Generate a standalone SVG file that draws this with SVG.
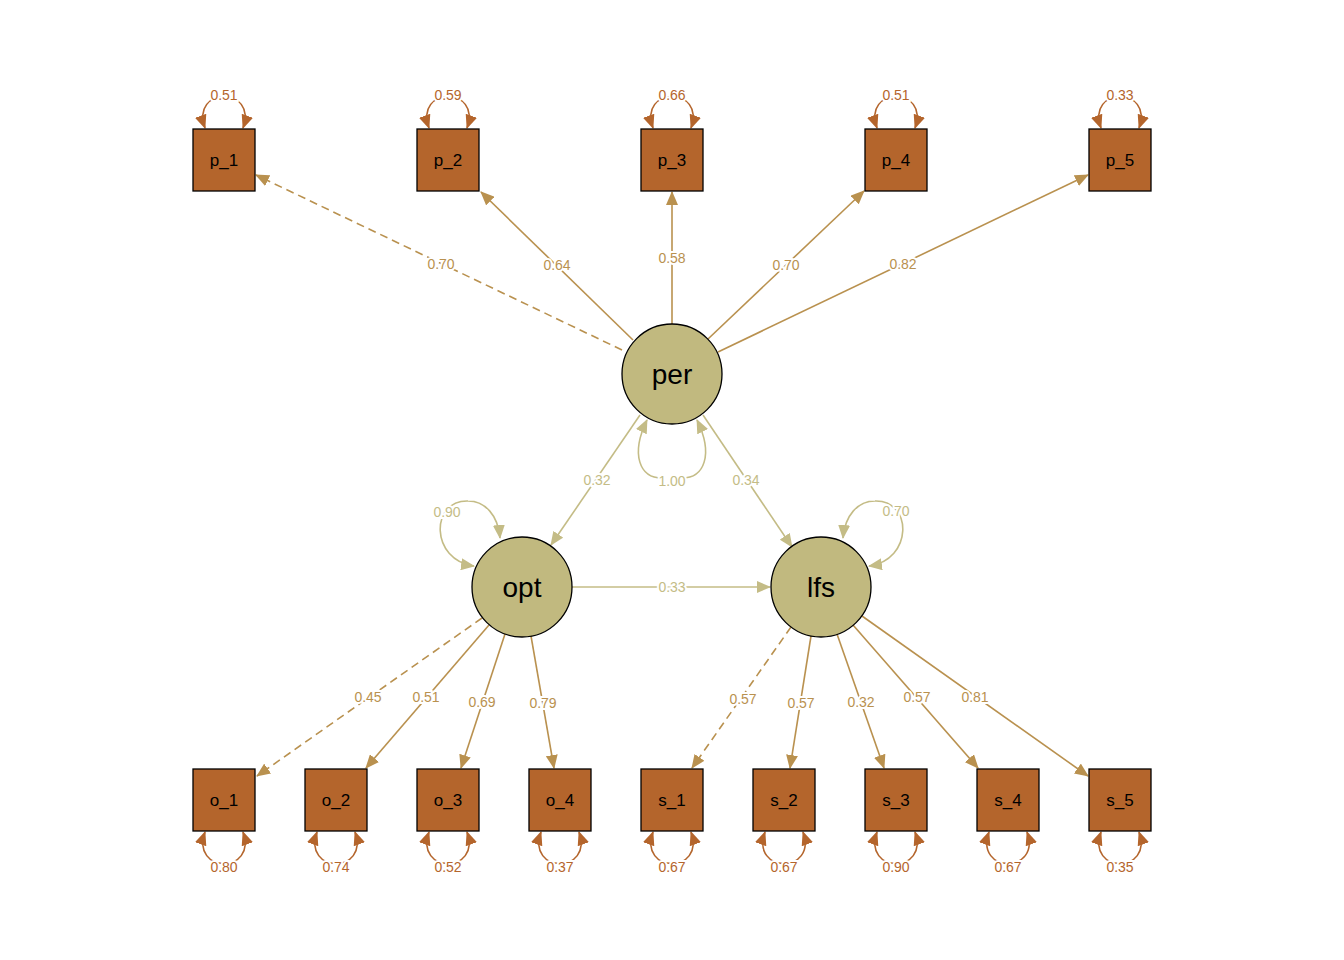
<svg xmlns="http://www.w3.org/2000/svg" width="1344" height="960" viewBox="0 0 1344 960">
<style>
.box{fill:#B4652C;stroke:#000;stroke-width:1.3}
.lat{fill:#C1B97F;stroke:#000;stroke-width:1.3}
.t{font-family:"Liberation Sans",Arial,sans-serif;font-size:17px;text-anchor:middle;dominant-baseline:central;fill:#000}
.tl{font-family:"Liberation Sans",Arial,sans-serif;font-size:28px;text-anchor:middle;dominant-baseline:central;fill:#000}
.ld{fill:none;stroke:#B9914F;stroke-width:1.6;marker-end:url(#ma)}
.la{fill:none;stroke:#C4BC86;stroke-width:1.6;marker-end:url(#mb)}
.lr{fill:none;stroke:#B4652C;stroke-width:1.6;marker-start:url(#mc);marker-end:url(#mc)}
.ls{fill:none;stroke:#C4BC86;stroke-width:1.6;marker-start:url(#mb);marker-end:url(#mb)}
.d{stroke-dasharray:8 5}
.e{font-family:"Liberation Sans",Arial,sans-serif;font-size:14px;text-anchor:middle;dominant-baseline:central;paint-order:stroke;stroke:#fff;stroke-width:4}
.eld{fill:#B9914F}.ela{fill:#C4BC86}.elr{fill:#B4652C}
</style>
<defs>
<marker id="ma" markerUnits="userSpaceOnUse" markerWidth="14" markerHeight="12" refX="13" refY="6" orient="auto-start-reverse"><path d="M0,0L14,6L0,12Z" fill="#B9914F"/></marker>
<marker id="mb" markerUnits="userSpaceOnUse" markerWidth="14" markerHeight="12" refX="13" refY="6" orient="auto-start-reverse"><path d="M0,0L14,6L0,12Z" fill="#C4BC86"/></marker>
<marker id="mc" markerUnits="userSpaceOnUse" markerWidth="14" markerHeight="12" refX="13" refY="6" orient="auto-start-reverse"><path d="M0,0L14,6L0,12Z" fill="#B4652C"/></marker>
</defs>
<g id="connectors">
<path class="ld d" d="M622,350L256,175"/>
<path class="ld" d="M633,340L481,192"/>
<path class="ld" d="M672,324L672,192"/>
<path class="ld" d="M708,339L864,191"/>
<path class="ld" d="M718,352L1088,175"/>
<path class="la" d="M640,415L551,545"/>
<path class="la" d="M703,415L792,547"/>
<path class="la" d="M572,587L770,587"/>
<path class="ls" d="M647,420C630,455 640,478 662,478M682,478C704,478 714,455 697,420"/>
<path class="ls" d="M474,566C430,560 430,500 468,501C485,501 498,515 500,538"/>
<path class="ls" d="M843,538C845,515 858,501 875,501C913,500 913,560 869,566"/>
<path class="ld d" d="M482,618L257,776"/>
<path class="ld" d="M489,625L366,768"/>
<path class="ld" d="M505,634L461,768"/>
<path class="ld" d="M531,636L554,768"/>
<path class="ld d" d="M791,627L692,768"/>
<path class="ld" d="M811,636L790,768"/>
<path class="ld" d="M837,634L884,768"/>
<path class="ld" d="M853,625L978,768"/>
<path class="ld" d="M862,616L1088,776"/>
<g id="resid">
<path class="lr" d="M205,128C190,86 258,86 243,128"/>
<path class="lr" d="M429,128C414,86 482,86 467,128"/>
<path class="lr" d="M653,128C638,86 706,86 691,128"/>
<path class="lr" d="M877,128C862,86 930,86 915,128"/>
<path class="lr" d="M1101,128C1086,86 1154,86 1139,128"/>
<path class="lr" d="M205,832C190,874 258,874 243,832"/>
<path class="lr" d="M317,832C302,874 370,874 355,832"/>
<path class="lr" d="M429,832C414,874 482,874 467,832"/>
<path class="lr" d="M541,832C526,874 594,874 579,832"/>
<path class="lr" d="M653,832C638,874 706,874 691,832"/>
<path class="lr" d="M765,832C750,874 818,874 803,832"/>
<path class="lr" d="M877,832C862,874 930,874 915,832"/>
<path class="lr" d="M989,832C974,874 1042,874 1027,832"/>
<path class="lr" d="M1101,832C1086,874 1154,874 1139,832"/>
</g>
<g id="labels">
<text class="e eld" x="441" y="264">0.70</text>
<text class="e eld" x="557" y="265">0.64</text>
<text class="e eld" x="672" y="258">0.58</text>
<text class="e eld" x="786" y="265">0.70</text>
<text class="e eld" x="903" y="264">0.82</text>
<text class="e ela" x="597" y="480">0.32</text>
<text class="e ela" x="746" y="480">0.34</text>
<text class="e ela" x="672" y="587">0.33</text>
<text class="e ela" x="672" y="481">1.00</text>
<text class="e ela" x="447" y="512">0.90</text>
<text class="e ela" x="896" y="511">0.70</text>
<text class="e eld" x="368" y="697">0.45</text>
<text class="e eld" x="426" y="697">0.51</text>
<text class="e eld" x="482" y="702">0.69</text>
<text class="e eld" x="543" y="703">0.79</text>
<text class="e eld" x="743" y="699">0.57</text>
<text class="e eld" x="801" y="703">0.57</text>
<text class="e eld" x="861" y="702">0.32</text>
<text class="e eld" x="917" y="697">0.57</text>
<text class="e eld" x="975" y="697">0.81</text>
<text class="e elr" x="224" y="95">0.51</text>
<text class="e elr" x="448" y="95">0.59</text>
<text class="e elr" x="672" y="95">0.66</text>
<text class="e elr" x="896" y="95">0.51</text>
<text class="e elr" x="1120" y="95">0.33</text>
<text class="e elr" x="224" y="867">0.80</text>
<text class="e elr" x="336" y="867">0.74</text>
<text class="e elr" x="448" y="867">0.52</text>
<text class="e elr" x="560" y="867">0.37</text>
<text class="e elr" x="672" y="867">0.67</text>
<text class="e elr" x="784" y="867">0.67</text>
<text class="e elr" x="896" y="867">0.90</text>
<text class="e elr" x="1008" y="867">0.67</text>
<text class="e elr" x="1120" y="867">0.35</text>
</g>
</g>
<g id="p_1"><rect class="box" x="193" y="129" width="62" height="62"/><text class="t" x="224" y="160">p_1</text></g>
<g id="p_2"><rect class="box" x="417" y="129" width="62" height="62"/><text class="t" x="448" y="160">p_2</text></g>
<g id="p_3"><rect class="box" x="641" y="129" width="62" height="62"/><text class="t" x="672" y="160">p_3</text></g>
<g id="p_4"><rect class="box" x="865" y="129" width="62" height="62"/><text class="t" x="896" y="160">p_4</text></g>
<g id="p_5"><rect class="box" x="1089" y="129" width="62" height="62"/><text class="t" x="1120" y="160">p_5</text></g>
<g id="o_1"><rect class="box" x="193" y="769" width="62" height="62"/><text class="t" x="224" y="800">o_1</text></g>
<g id="o_2"><rect class="box" x="305" y="769" width="62" height="62"/><text class="t" x="336" y="800">o_2</text></g>
<g id="o_3"><rect class="box" x="417" y="769" width="62" height="62"/><text class="t" x="448" y="800">o_3</text></g>
<g id="o_4"><rect class="box" x="529" y="769" width="62" height="62"/><text class="t" x="560" y="800">o_4</text></g>
<g id="s_1"><rect class="box" x="641" y="769" width="62" height="62"/><text class="t" x="672" y="800">s_1</text></g>
<g id="s_2"><rect class="box" x="753" y="769" width="62" height="62"/><text class="t" x="784" y="800">s_2</text></g>
<g id="s_3"><rect class="box" x="865" y="769" width="62" height="62"/><text class="t" x="896" y="800">s_3</text></g>
<g id="s_4"><rect class="box" x="977" y="769" width="62" height="62"/><text class="t" x="1008" y="800">s_4</text></g>
<g id="s_5"><rect class="box" x="1089" y="769" width="62" height="62"/><text class="t" x="1120" y="800">s_5</text></g>
<g id="per"><circle class="lat" cx="672" cy="374" r="50"/><text class="tl" x="672" y="374">per</text></g>
<g id="opt"><circle class="lat" cx="522" cy="587" r="50"/><text class="tl" x="522" y="587">opt</text></g>
<g id="lfs"><circle class="lat" cx="821" cy="587" r="50"/><text class="tl" x="821" y="587">lfs</text></g>
</svg>
